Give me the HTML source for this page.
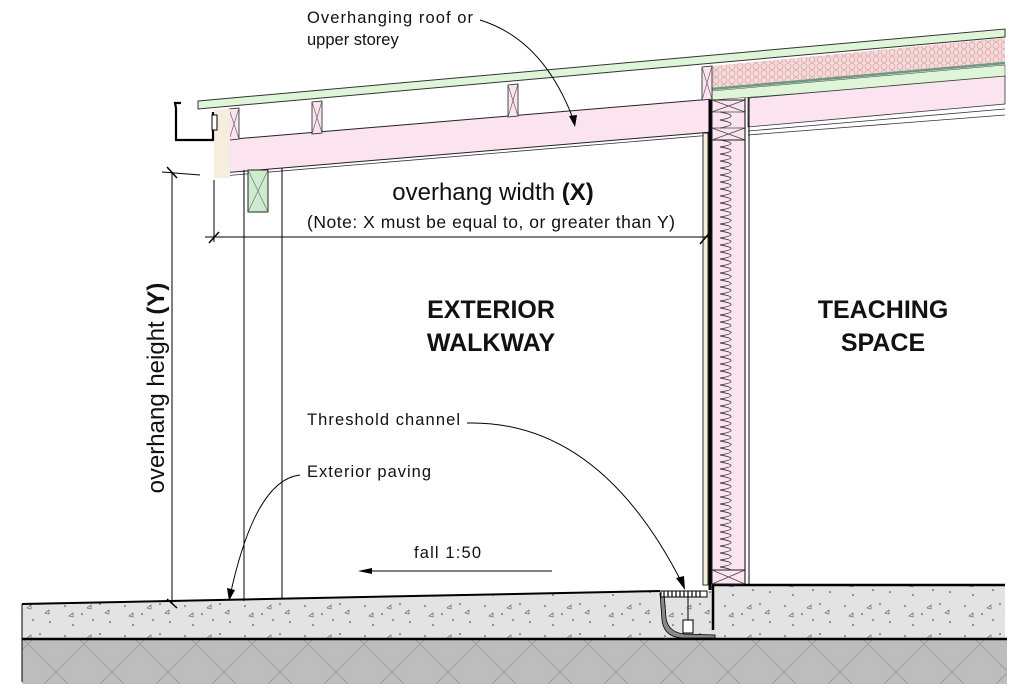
<!DOCTYPE html>
<html><head><meta charset="utf-8"><style>
html,body{margin:0;padding:0;background:#fff;}
svg{display:block;}
text{font-family:"Liberation Sans",sans-serif;fill:#111;}
</style></head><body>
<svg width="1013" height="693" viewBox="0 0 1013 693" xmlns="http://www.w3.org/2000/svg">
<defs>
<pattern id="hex" width="8" height="7" patternUnits="userSpaceOnUse">
<rect width="8" height="7" fill="#f8d8d8"/>
<circle cx="4" cy="3.5" r="3" fill="none" stroke="#c9a0a0" stroke-width="0.6"/>
</pattern>
<pattern id="cross" width="56" height="56" patternUnits="userSpaceOnUse">
<rect width="56" height="56" fill="#bdbdbd"/>
<path d="M0 0L56 56M56 0L0 56" stroke="#a0a0a0" stroke-width="1"/>
</pattern>
<pattern id="conc" width="60" height="30" patternUnits="userSpaceOnUse">
<rect width="60" height="30" fill="#e3e3e3"/>
<circle cx="5" cy="6" r="0.8" fill="#333"/><circle cx="22" cy="14" r="0.8" fill="#333"/>
<circle cx="40" cy="4" r="0.8" fill="#333"/><circle cx="50" cy="22" r="0.8" fill="#333"/>
<circle cx="13" cy="25" r="0.8" fill="#333"/><circle cx="33" cy="20" r="0.8" fill="#333"/>
<path d="M27 8l4 -3l0 4z M9 16l4-3l0 4z M45 13l4-3l0 4z" fill="none" stroke="#555" stroke-width="0.6"/>
</pattern>
<pattern id="zig" x="712" y="0" width="33" height="14" patternUnits="userSpaceOnUse">
<rect width="33" height="14" fill="#fbe3f0"/>
<path d="M8 0 Q30 3.5 8 7 Q30 10.5 8 14" fill="none" stroke="#444" stroke-width="0.9"/>
</pattern>
</defs>

<!-- ground -->
<rect x="22" y="639" width="985" height="45" fill="url(#cross)"/>
<polygon points="22,604 665,591 712,591 712,585 1005,585 1005,639 22,639" fill="url(#conc)"/>
<line x1="22" y1="639" x2="1007" y2="639" stroke="#000" stroke-width="2.5"/>
<line x1="22" y1="604" x2="660" y2="591" stroke="#000" stroke-width="2"/>
<line x1="712" y1="585" x2="1005" y2="585" stroke="#000" stroke-width="2.5"/>
<line x1="22" y1="604" x2="22" y2="682" stroke="#000" stroke-width="1"/>
<!-- threshold channel -->
<path d="M660 593 L662 620 Q664 637 682 638 L715 638 L715 635 L684 634 Q668 632 666 618 L664 593Z" fill="#888" stroke="#000" stroke-width="0.8"/>
<rect x="661" y="591" width="46" height="6" fill="#fff" stroke="#000" stroke-width="1"/>
<path d="M664 591v6M668 591v6M672 591v6M676 591v6M680 591v6M684 591v6M688 591v6M692 591v6M696 591v6M700 591v6" stroke="#000" stroke-width="1.2"/>
<line x1="688" y1="597" x2="688" y2="620" stroke="#000"/>
<rect x="683" y="620" width="10" height="13" fill="#fff" stroke="#000"/>
<line x1="713" y1="585" x2="713" y2="630" stroke="#000" stroke-width="2.5"/>

<!-- right roof assembly -->
<polygon points="712,66 1005,38 1005,62 712,90" fill="url(#hex)"/>
<line x1="712" y1="89" x2="1005" y2="63" stroke="#6a9a80" stroke-width="2.5"/>
<polygon points="712,91 1005,65 1005,78 712,100" fill="#dff5d8" stroke="#555" stroke-width="0.6"/>
<polygon points="748,98 1005,76 1005,104 748,127" fill="#fbe3f0" stroke="#333" stroke-width="0.8"/>
<line x1="748" y1="131" x2="1005" y2="109" stroke="#333" stroke-width="0.8"/>
<line x1="748" y1="135" x2="1005" y2="115" stroke="#333" stroke-width="0.8"/>

<!-- roof sheet -->
<polygon points="198,101 1005,29 1005,37 198,109" fill="#dff5d8" stroke="#333" stroke-width="1"/>

<!-- beam -->
<polygon points="222,140 712,99 712,132 222,173" fill="#fbe3f0" stroke="#222" stroke-width="1"/>
<line x1="222" y1="176" x2="712" y2="135" stroke="#333" stroke-width="0.8"/>

<!-- purlins -->
<g fill="#fbe3f0" stroke="#222" stroke-width="0.8">
<polygon points="229,109 239,108 239,139 229,140"/>
<polygon points="312,102 322,101 322,133 312,134"/>
<polygon points="508,85 518,84 518,116 508,117"/>
<polygon points="702,67 712,66 712,99 702,100"/>
</g>
<g stroke="#555" stroke-width="0.6">
<path d="M229,109L239,139M239,108L229,140M312,102L322,133M322,101L312,134M508,85L518,116M518,84L508,117M702,67L712,99M712,66L702,100"/>
</g>

<!-- wall -->
<rect x="712" y="100" width="33" height="484" fill="url(#zig)" stroke="#222" stroke-width="1"/>
<rect x="712" y="100" width="33" height="40" fill="#fbe3f0" stroke="#222" stroke-width="1"/>
<rect x="712" y="570" width="33" height="14" fill="#fbe3f0" stroke="#222" stroke-width="1"/>
<path d="M712 100L745 112M745 100L712 112M712 112L745 112M712 128L745 140M745 128L712 140M712 128L745 128M712 570L745 584M745 570L712 584" stroke="#444" stroke-width="0.7"/>
<path d="M720 112 Q742 116 720 120 Q742 124 720 128" fill="none" stroke="#444" stroke-width="0.9"/>
<line x1="745" y1="98" x2="745" y2="585" stroke="#000" stroke-width="1"/>
<line x1="749" y1="98" x2="749" y2="585" stroke="#000" stroke-width="1"/>
<rect x="703" y="133" width="5" height="452" fill="#f5f0dc" stroke="#000" stroke-width="0.8"/>
<line x1="710" y1="100" x2="710" y2="590" stroke="#000" stroke-width="3"/>

<!-- fascia & gutter -->
<rect x="214" y="109" width="16" height="69" fill="#f5eedc"/>
<path d="M181 103 L175 103 L176 108 M176 108 L176 140 L213 140 L213 112" fill="none" stroke="#000" stroke-width="2.2"/>
<rect x="212" y="115" width="5" height="15" fill="#fff" stroke="#000"/>

<!-- post -->
<rect x="248" y="170" width="20" height="42" fill="#cdeccd" stroke="#222"/>
<path d="M248 170L268 212M268 170L248 212" stroke="#666" stroke-width="0.6"/>
<line x1="244" y1="170" x2="244" y2="601" stroke="#000"/>
<line x1="282" y1="168" x2="282" y2="599" stroke="#000"/>

<!-- dimensions -->
<line x1="172" y1="172" x2="172" y2="604" stroke="#000"/>
<line x1="162" y1="172" x2="200" y2="175" stroke="#000"/>
<line x1="167" y1="167" x2="177" y2="178" stroke="#000" stroke-width="1.5"/>
<line x1="167" y1="599" x2="177" y2="608" stroke="#000" stroke-width="1.5"/>
<line x1="214" y1="180" x2="214" y2="242" stroke="#000"/>
<line x1="205" y1="237" x2="712" y2="237" stroke="#000"/>
<line x1="209" y1="243" x2="219" y2="232" stroke="#000" stroke-width="1.5"/>
<line x1="700" y1="244" x2="712" y2="230" stroke="#000" stroke-width="1.5"/>

<!-- leaders -->
<path d="M480 20 Q545 40 575 124" fill="none" stroke="#000"/>
<polygon points="575,127 569,116 577,115" fill="#000"/>
<path d="M467 423 Q600 420 683 585" fill="none" stroke="#000"/>
<polygon points="685,590 676,578 684,576" fill="#000"/>
<path d="M300 475 Q255 480 230 596" fill="none" stroke="#000"/>
<polygon points="229,601 227,588 235,590" fill="#000"/>
<line x1="368" y1="571" x2="552" y2="571" stroke="#000"/>
<polygon points="358,571 372,568 372,574" fill="#000"/>

<!-- text -->
<text x="307" y="23" font-size="16.5" textLength="166">Overhanging roof or</text>
<text x="307" y="45" font-size="16.5">upper storey</text>
<text x="493" y="200" font-size="24" text-anchor="middle">overhang width <tspan font-weight="bold">(X)</tspan></text>
<text x="491" y="228" font-size="17.5" text-anchor="middle" textLength="368">(Note: X must be equal to, or greater than Y)</text>
<text x="491" y="318" font-size="25" font-weight="bold" text-anchor="middle">EXTERIOR</text>
<text x="491" y="351" font-size="25" font-weight="bold" text-anchor="middle">WALKWAY</text>
<text x="883" y="318" font-size="25" font-weight="bold" text-anchor="middle">TEACHING</text>
<text x="883" y="351" font-size="25" font-weight="bold" text-anchor="middle">SPACE</text>
<text transform="translate(164,388) rotate(-90)" font-size="24" text-anchor="middle">overhang height <tspan font-weight="bold">(Y)</tspan></text>
<text x="307" y="425" font-size="16.5" textLength="153">Threshold channel</text>
<text x="307" y="477" font-size="16.5" textLength="124">Exterior paving</text>
<text x="414" y="558" font-size="16.5" textLength="67">fall 1:50</text>
</svg>
</body></html>
